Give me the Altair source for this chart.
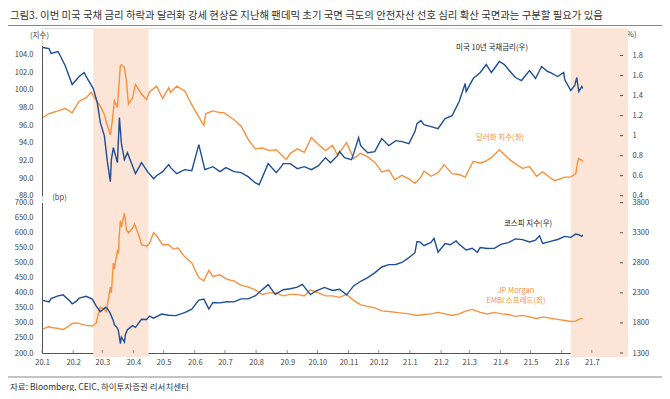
import altair as alt
import pandas as pd

FONT = "Noto Sans CJK KR"
BLUE = "#1f4e96"
ORANGE = "#f7913d"
BAND = "#fce4d6"
GREY = "#444444"

# ---------------- data ----------------
us10_dates = ["2020-01-02","2020-01-08","2020-01-10","2020-01-17","2020-01-24","2020-01-31","2020-02-07","2020-02-12","2020-02-14","2020-02-21","2020-02-25","2020-02-28","2020-03-03","2020-03-06","2020-03-09","2020-03-10","2020-03-12","2020-03-16","2020-03-18","2020-03-20","2020-03-23","2020-03-26","2020-03-31","2020-04-03","2020-04-09","2020-04-15","2020-04-21","2020-04-24","2020-04-30","2020-05-06","2020-05-08","2020-05-14","2020-05-22","2020-05-29","2020-06-05","2020-06-11","2020-06-19","2020-06-26","2020-07-02","2020-07-10","2020-07-17","2020-07-24","2020-07-31","2020-08-04","2020-08-13","2020-08-21","2020-08-26","2020-08-28","2020-09-04","2020-09-11","2020-09-18","2020-09-25","2020-10-02","2020-10-09","2020-10-14","2020-10-21","2020-10-23","2020-10-28","2020-11-04","2020-11-06","2020-11-11","2020-11-13","2020-11-20","2020-11-27","2020-12-04","2020-12-11","2020-12-18","2020-12-24","2020-12-31","2021-01-06","2021-01-08","2021-01-12","2021-01-15","2021-01-22","2021-01-29","2021-02-05","2021-02-12","2021-02-19","2021-02-25","2021-02-26","2021-03-05","2021-03-12","2021-03-18","2021-03-23","2021-03-26","2021-03-31","2021-04-05","2021-04-09","2021-04-16","2021-04-22","2021-04-30","2021-05-06","2021-05-12","2021-05-18","2021-05-21","2021-05-28","2021-06-03","2021-06-04","2021-06-10","2021-06-14","2021-06-16","2021-06-18","2021-06-21","2021-06-22"]
us10_vals = [1.88,1.87,1.82,1.84,1.70,1.51,1.59,1.63,1.59,1.47,1.33,1.13,1.00,0.74,0.54,0.76,0.88,0.73,1.18,0.92,0.76,0.83,0.70,0.62,0.73,0.64,0.57,0.60,0.64,0.71,0.68,0.62,0.66,0.65,0.91,0.66,0.69,0.64,0.68,0.64,0.63,0.59,0.53,0.51,0.72,0.63,0.69,0.72,0.72,0.67,0.69,0.66,0.70,0.78,0.73,0.80,0.84,0.78,0.76,0.82,0.98,0.90,0.83,0.84,0.97,0.90,0.95,0.94,0.92,1.04,1.12,1.15,1.11,1.09,1.07,1.17,1.20,1.34,1.52,1.44,1.57,1.63,1.71,1.63,1.67,1.74,1.71,1.66,1.58,1.55,1.65,1.57,1.69,1.64,1.63,1.59,1.63,1.56,1.45,1.50,1.58,1.44,1.49,1.47]

dxy_dates = ["2020-01-02","2020-01-08","2020-01-10","2020-01-17","2020-01-24","2020-01-31","2020-02-07","2020-02-14","2020-02-19","2020-02-21","2020-02-28","2020-03-03","2020-03-06","2020-03-09","2020-03-11","2020-03-13","2020-03-16","2020-03-18","2020-03-19","2020-03-20","2020-03-23","2020-03-25","2020-03-27","2020-03-31","2020-04-03","2020-04-09","2020-04-14","2020-04-17","2020-04-24","2020-04-30","2020-05-06","2020-05-08","2020-05-14","2020-05-22","2020-05-29","2020-06-05","2020-06-10","2020-06-12","2020-06-19","2020-06-26","2020-06-30","2020-07-10","2020-07-17","2020-07-24","2020-07-31","2020-08-07","2020-08-14","2020-08-21","2020-08-31","2020-09-04","2020-09-11","2020-09-18","2020-09-25","2020-10-02","2020-10-09","2020-10-16","2020-10-21","2020-10-30","2020-11-06","2020-11-13","2020-11-20","2020-11-27","2020-12-04","2020-12-11","2020-12-17","2020-12-24","2020-12-31","2021-01-06","2021-01-12","2021-01-15","2021-01-22","2021-01-29","2021-02-04","2021-02-12","2021-02-19","2021-02-25","2021-03-05","2021-03-12","2021-03-17","2021-03-23","2021-03-31","2021-04-09","2021-04-16","2021-04-23","2021-04-30","2021-05-07","2021-05-13","2021-05-21","2021-05-25","2021-06-04","2021-06-10","2021-06-15","2021-06-17","2021-06-18","2021-06-21","2021-06-22"]
dxy_vals = [96.85,97.30,97.36,97.60,97.87,97.39,98.69,99.10,99.71,99.29,98.13,97.19,95.95,94.89,96.52,98.75,98.00,101.20,102.75,102.82,102.50,101.00,98.36,99.05,100.58,99.50,98.90,99.75,100.40,99.00,100.20,99.70,100.40,99.86,98.30,96.90,95.97,97.30,97.60,97.40,97.40,96.60,95.90,94.40,93.30,93.40,93.10,93.20,92.10,92.80,93.30,92.90,94.60,93.80,93.10,93.70,92.60,94.00,92.20,92.80,92.40,91.80,90.70,90.90,89.80,90.30,89.90,89.40,90.10,90.80,90.20,90.60,91.50,90.50,90.40,90.10,91.90,91.70,91.90,92.30,93.20,92.20,91.60,91.10,91.30,90.20,90.70,90.00,89.70,90.10,90.10,90.50,91.90,92.20,92.00,91.80]

embi_dates = ["2020-01-02","2020-01-08","2020-01-10","2020-01-17","2020-01-22","2020-01-28","2020-01-31","2020-02-05","2020-02-10","2020-02-14","2020-02-20","2020-02-24","2020-02-26","2020-02-28","2020-03-03","2020-03-05","2020-03-09","2020-03-10","2020-03-12","2020-03-13","2020-03-16","2020-03-17","2020-03-18","2020-03-19","2020-03-20","2020-03-23","2020-03-24","2020-03-25","2020-03-27","2020-03-31","2020-04-02","2020-04-06","2020-04-09","2020-04-14","2020-04-17","2020-04-21","2020-04-24","2020-04-30","2020-05-06","2020-05-11","2020-05-15","2020-05-22","2020-05-29","2020-06-05","2020-06-10","2020-06-15","2020-06-19","2020-06-26","2020-07-03","2020-07-10","2020-07-17","2020-07-24","2020-07-31","2020-08-07","2020-08-14","2020-08-21","2020-08-28","2020-09-04","2020-09-11","2020-09-18","2020-09-24","2020-10-02","2020-10-09","2020-10-16","2020-10-23","2020-10-30","2020-11-06","2020-11-13","2020-11-20","2020-11-27","2020-12-04","2020-12-11","2020-12-18","2020-12-31","2021-01-08","2021-01-15","2021-01-22","2021-01-29","2021-02-05","2021-02-12","2021-02-19","2021-02-26","2021-03-04","2021-03-12","2021-03-19","2021-03-26","2021-04-02","2021-04-09","2021-04-16","2021-04-23","2021-04-30","2021-05-07","2021-05-14","2021-05-21","2021-05-28","2021-06-04","2021-06-10","2021-06-15","2021-06-18","2021-06-22"]
embi_vals = [280,288,285,282,278,290,298,300,295,292,290,300,330,352,345,338,420,400,500,480,540,535,600,640,620,665,640,610,600,615,630,595,560,555,565,600,590,560,560,545,550,520,500,450,440,475,455,460,445,440,425,420,410,395,400,400,390,395,395,390,410,400,390,390,385,395,375,360,355,350,340,338,335,330,325,328,330,335,330,325,330,340,345,335,330,335,330,328,322,325,320,315,320,315,312,308,305,306,312,315]

kospi_dates = ["2020-01-02","2020-01-08","2020-01-10","2020-01-17","2020-01-22","2020-01-28","2020-01-31","2020-02-04","2020-02-07","2020-02-14","2020-02-20","2020-02-24","2020-02-28","2020-03-04","2020-03-06","2020-03-09","2020-03-12","2020-03-13","2020-03-16","2020-03-17","2020-03-19","2020-03-20","2020-03-23","2020-03-24","2020-03-26","2020-03-31","2020-04-03","2020-04-09","2020-04-14","2020-04-17","2020-04-21","2020-04-29","2020-05-06","2020-05-13","2020-05-22","2020-05-29","2020-06-05","2020-06-10","2020-06-15","2020-06-19","2020-06-26","2020-07-03","2020-07-10","2020-07-17","2020-07-24","2020-07-31","2020-08-07","2020-08-13","2020-08-20","2020-08-28","2020-09-04","2020-09-11","2020-09-16","2020-09-24","2020-09-29","2020-10-08","2020-10-16","2020-10-23","2020-10-30","2020-11-06","2020-11-13","2020-11-20","2020-11-27","2020-12-04","2020-12-11","2020-12-18","2020-12-24","2020-12-30","2021-01-06","2021-01-08","2021-01-11","2021-01-15","2021-01-22","2021-01-25","2021-01-29","2021-02-05","2021-02-10","2021-02-16","2021-02-19","2021-02-26","2021-03-04","2021-03-09","2021-03-12","2021-03-19","2021-03-26","2021-04-02","2021-04-09","2021-04-16","2021-04-23","2021-04-30","2021-05-06","2021-05-10","2021-05-13","2021-05-21","2021-05-28","2021-06-04","2021-06-10","2021-06-15","2021-06-18","2021-06-21","2021-06-22"]
kospi_vals = [2175,2151,2206,2250,2267,2176,2119,2157,2212,2243,2196,2079,1987,2059,2040,1954,1834,1771,1714,1672,1457,1566,1482,1609,1686,1754,1725,1861,1857,1914,1879,1947,1928,1922,1970,2029,2181,2196,2030,2141,2134,2153,2150,2201,2200,2249,2351,2437,2274,2353,2368,2396,2443,2272,2327,2391,2341,2360,2267,2416,2493,2553,2633,2731,2770,2772,2806,2873,2968,3152,3148,3085,3140,3208,2976,3120,3100,3163,3107,3013,3043,2976,3054,3039,3041,3112,3135,3198,3186,3147,3178,3249,3122,3156,3188,3240,3224,3278,3267,3240,3264]

band_start = ["2020-02-21", "2021-06-10"]
band_end = ["2020-04-16", "2021-08-06"]

month_ticks = ["2020-%02d-01" % m for m in range(1, 13)] + ["2021-%02d-01" % m for m in range(1, 8)]

dxy_ticks = [88, 90, 92, 94, 96, 98, 100, 102, 104]
us10_ticks = [0.4, 0.6, 0.8, 1.0, 1.2, 1.4, 1.6, 1.8]
embi_ticks = [200, 250, 300, 350, 400, 450, 500, 550, 600, 650, 700]
kospi_ticks = [1300, 1800, 2300, 2800, 3300, 3800]

# ---------------- layout ----------------
W, H = 581, 325


def dt(s):
    y, m, d = (int(p) for p in s.split("-"))
    return alt.DateTime(year=y, month=m, date=d, utc=True)


xscale = alt.Scale(type="utc", domain=[dt("2020-01-01"), dt("2021-08-01")], nice=False)
xaxis = alt.Axis(values=[dt(s) for s in month_ticks],
                 labelExpr="utcFormat(datum.value, '%y.%-m')",
                 labelFlush=False, labelOverlap=False, ticks=False, grid=False, title=None,
                 domainColor="#555555", labelFontSize=7.5, labelColor=GREY, labelFont=FONT,
                 labelPadding=5)


def yaxis(orient, values, fmt, title, tx, ty):
    return alt.Axis(orient=orient, values=values, format=fmt, title=title, titleX=tx, titleY=ty,
                    titleAngle=0, titleAlign="center", titleBaseline="middle",
                    titleFont=FONT, titleFontSize=7.5, titleFontWeight="normal", titleColor=GREY,
                    labelFont=FONT, labelFontSize=7.5, labelColor=GREY, labelPadding=9,
                    ticks=False, grid=False, domainColor="#555555", labelOverlap=False,
                    labelFlush=False)


def series(dates, vals, ticks, color, domain, rng, axis, with_ticks):
    df = pd.DataFrame({"date": dates, "v": vals})
    ys = alt.Scale(domain=domain, range=rng, zero=False, nice=False)
    line = alt.Chart(df).mark_line(color=color, strokeWidth=1.4).encode(
        x=alt.X("date:T", scale=xscale, axis=xaxis),
        y=alt.Y("v:Q", scale=ys, axis=axis),
    )
    if not with_ticks:
        return alt.layer(line)
    tk = alt.Chart(pd.DataFrame({"v": ticks})).mark_rule(color="#555555", strokeWidth=1).encode(
        y=alt.Y("v:Q", scale=ys, axis=axis),
        x=alt.value(W - 3), x2=alt.value(W),
    )
    return alt.layer(line, tk)


TOP = [167.7, 17.5]
BOT = [325, 174.7]

dxy = series(dxy_dates, dxy_vals, dxy_ticks, ORANGE, [88, 105], TOP,
             yaxis("left", dxy_ticks, ".1f", "(지수)", -3, 7), False)
us10 = series(us10_dates, us10_vals, us10_ticks, BLUE, [0.4, 1.9], TOP,
              yaxis("right", us10_ticks, "~g", "(%)", 7, 6), True)
embi = series(embi_dates, embi_vals, embi_ticks, ORANGE, [200, 700], BOT,
              yaxis("left", embi_ticks, ".1f", "(bp)", 17, 169), False)
kospi = series(kospi_dates, kospi_vals, kospi_ticks, BLUE, [1300, 3800], BOT,
               yaxis("right", kospi_ticks, "d", "(지수)", -23, 172), True)

bands = alt.Chart(pd.DataFrame({"start": band_start, "end": band_end})).mark_rect(
    color=BAND).encode(
    x=alt.X("start:T", scale=xscale, axis=xaxis), x2="end:T",
    y=alt.value(0), y2=alt.value(H + 4),
)

xticks = alt.Chart(pd.DataFrame({"date": month_ticks})).mark_rule(
    color="#777777", strokeWidth=0.8).encode(
    x=alt.X("date:T", scale=xscale, axis=xaxis),
    y=alt.value(H - 3), y2=alt.value(H),
)

one = pd.DataFrame({"k": [0]})


def label(text, px, py, color, size=7.5, align="center"):
    return alt.Chart(one).mark_text(text=text, font=FONT, fontSize=size, color=color,
                                    align=align, baseline="middle").encode(
        x=alt.value(px - 42), y=alt.value(py - 28))


texts = [
    label("미국 10년 국채금리(우)", 492, 48, "#222222"),
    label("달러화 지수(좌)", 500, 138, ORANGE),
    label("코스피 지수(우)", 528, 224, "#222222"),
    label("JP Morgan", 516, 291, ORANGE),
    label("EMBI 스프레드(좌)", 516, 301, ORANGE),
    label("그림3.  이번 미국 국채 금리 하락과 달러화 강세 현상은 지난해 팬데믹 초기 국면 극도의 안전자산 선호 심리 확산 국면과는 구분할 필요가 있음",
          10, 15.5, "#333333", size=10.4, align="left"),
    label("자료: Bloomberg, CEIC, 하이투자증권 리서치센터", 10, 387, "#333333", size=8.5, align="left"),
]

seps = [
    alt.Chart(one).mark_rule(color="#888888", strokeWidth=1).encode(
        x=alt.value(-42), x2=alt.value(670 - 42), y=alt.value(25.5 - 28)),
    alt.Chart(one).mark_rule(color="#888888", strokeWidth=1).encode(
        x=alt.value(-42), x2=alt.value(670 - 42), y=alt.value(377 - 28)),
]

chart = alt.layer(bands, *seps, dxy, us10, embi, kospi, xticks, *texts).resolve_scale(
    y="independent"
).properties(
    width=W, height=H,
    padding={"left": 34, "top": 20, "right": 39, "bottom": 38},
    autosize=alt.AutoSizeParams(type="none"),
).configure_view(stroke=None).configure(background="white")

chart.save("out.html", embed_options={"renderer": "svg", "actions": False})
